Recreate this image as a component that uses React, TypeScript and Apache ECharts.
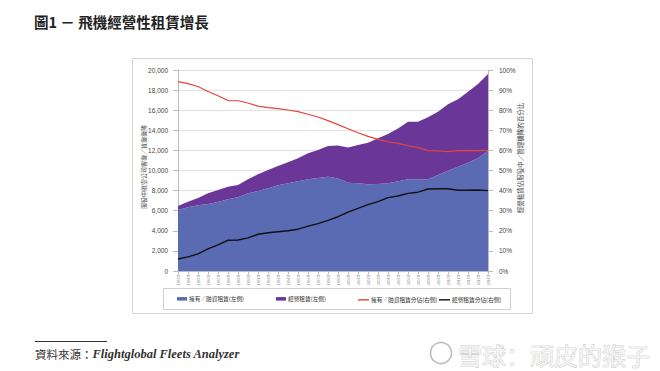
import React, { useEffect, useRef } from 'react';
import * as echarts from 'echarts';

const years = [
  '1983年', '1984年', '1985年', '1986年', '1987年', '1988年', '1989年', '1990年',
  '1991年', '1992年', '1993年', '1994年', '1995年', '1996年', '1997年', '1998年',
  '1999年', '2000年', '2001年', '2002年', '2003年', '2004年', '2005年', '2006年',
  '2007年', '2008年', '2009年', '2010年', '2011年', '2012年', '2013年', '2014年',
];

const ownedFinance = [
  6070, 6340, 6540, 6670, 6870, 7130, 7330, 7730, 7960, 8230, 8530, 8730, 8930, 9120, 9250, 9380,
  9200, 8790, 8730, 8620, 8650, 8730, 8920, 9120, 9120, 9120, 9550, 9980, 10380, 10780, 11210, 11970,
];

const operatingLease = [
  400, 560, 720, 1060, 1190, 1260, 1230, 1390, 1660, 1820, 1920, 2090, 2280, 2590, 2790, 3060,
  3300, 3510, 3810, 4150, 4550, 4900, 5270, 5740, 5740, 6170, 6300, 6600, 6700, 7060, 7400, 7630,
];

const ownedShare = [
  94.2, 93.2, 91.8, 89.3, 87.2, 84.8, 84.7, 83.6, 82.0, 81.3, 80.8, 80.1, 79.3, 78.0, 76.6, 74.8,
  72.8, 70.8, 68.8, 67.0, 65.5, 64.3, 63.5, 62.3, 61.5, 59.9, 59.7, 59.4, 59.9, 60.0, 59.9, 60.0,
];

const leaseShare = [
  6.0, 7.0, 8.5, 11.0, 13.0, 15.3, 15.4, 16.5, 18.3, 19.0, 19.5, 20.0, 20.8, 22.3, 23.6, 25.2,
  27.0, 29.3, 31.2, 33.0, 34.5, 36.5, 37.3, 38.6, 39.2, 40.8, 40.9, 40.9, 40.2, 40.2, 40.3, 40.0,
];

const seriesNames = ['擁有／融資租賃(左側)', '經營租賃(左側)', '擁有／融資租賃分佔(右側)', '經營租賃分佔(右側)'];

const BLUE = '#5A6BB4';
const PURPLE = '#6A3799';
const RED = '#E5443A';
const BLACK = '#111111';

const CJK = '"Noto Sans CJK TC", "Noto Sans CJK SC", sans-serif';

export default function App() {
  const ref = useRef<HTMLDivElement>(null);
  useEffect(() => {
    const chart = echarts.init(ref.current!, null, { renderer: 'svg' });
    const legendText = { fontSize: 5.7, color: '#333', fontFamily: CJK };
    const mkLegend = (name: string, left: number, line: boolean) => ({
      data: [{ name, icon: 'rect' }],
      left,
      top: line ? 297 : 296,
      padding: 0,
      itemWidth: line ? 11 : 10,
      itemHeight: line ? 1.4 : 3.5,
      itemGap: 0,
      selectedMode: false,
      textStyle: { ...legendText, padding: [0, 0, 0, -3] },
    });
    chart.setOption({
      animation: false,
      backgroundColor: '#ffffff',
      grid: { left: 178, top: 70, width: 310, height: 201, containLabel: false },
      xAxis: {
        type: 'category',
        data: years,
        boundaryGap: false,
        axisLine: { lineStyle: { color: '#bbbbbb', width: 1 } },
        axisTick: { show: true, length: 3, interval: 0, lineStyle: { color: '#bbbbbb' } },
        axisLabel: { rotate: 90, fontSize: 3.5, color: '#888', margin: 3, interval: 0, fontFamily: CJK },
        splitLine: { show: false },
      },
      yAxis: [
        {
          type: 'value',
          min: 0,
          max: 20000,
          interval: 2000,
          position: 'left',
          axisLine: { show: true, lineStyle: { color: '#bbbbbb' } },
          axisTick: { show: true, length: 5, lineStyle: { color: '#bbbbbb' } },
          axisLabel: {
            fontSize: 6.5,
            color: '#444',
            margin: 10,
            fontFamily: '"Liberation Sans", Arial, sans-serif',
            formatter: (v: number) => v.toLocaleString('en-US'),
          },
          splitLine: { show: true, lineStyle: { color: '#d9d9d9', width: 0.8 } },
        },
        {
          type: 'value',
          min: 0,
          max: 100,
          interval: 10,
          position: 'right',
          axisLine: { show: true, lineStyle: { color: '#bbbbbb' } },
          axisTick: { show: true, length: 5, lineStyle: { color: '#bbbbbb' } },
          axisLabel: {
            fontSize: 6.5,
            color: '#444',
            margin: 11,
            fontFamily: '"Liberation Sans", Arial, sans-serif',
            formatter: '{value}%',
          },
          splitLine: { show: false },
        },
      ],
      legend: [
        mkLegend(seriesNames[0], 177, false),
        mkLegend(seriesNames[1], 276, false),
        mkLegend(seriesNames[2], 358, true),
        mkLegend(seriesNames[3], 439, true),
      ],
      series: [
        {
          name: seriesNames[0],
          type: 'line',
          stack: 'fleet',
          data: ownedFinance,
          symbol: 'none',
          color: BLUE,
          itemStyle: { color: BLUE },
          lineStyle: { width: 0 },
          areaStyle: { color: BLUE, opacity: 1 },
          yAxisIndex: 0,
          z: 1,
        },
        {
          name: seriesNames[1],
          type: 'line',
          stack: 'fleet',
          data: operatingLease,
          symbol: 'none',
          color: PURPLE,
          itemStyle: { color: PURPLE },
          lineStyle: { width: 0 },
          areaStyle: { color: PURPLE, opacity: 1 },
          yAxisIndex: 0,
          z: 1,
        },
        {
          name: seriesNames[2],
          type: 'line',
          data: ownedShare,
          symbol: 'none',
          color: RED,
          itemStyle: { color: RED },
          lineStyle: { width: 1.2, color: RED },
          yAxisIndex: 1,
          z: 3,
        },
        {
          name: seriesNames[3],
          type: 'line',
          data: leaseShare,
          symbol: 'none',
          color: BLACK,
          itemStyle: { color: BLACK },
          lineStyle: { width: 1.4, color: BLACK },
          yAxisIndex: 1,
          z: 3,
        },
      ],
      graphic: [
        {
          type: 'rect',
          shape: { x: 132.5, y: 58.5, width: 400, height: 255 },
          style: { fill: 'none', stroke: '#d4d4d4', lineWidth: 1 },
          silent: true,
        },
        {
          type: 'rect',
          shape: { x: 163.5, y: 288.5, width: 347, height: 21 },
          style: { fill: 'none', stroke: '#cfcfcf', lineWidth: 1 },
          silent: true,
        },
        {
          type: 'text',
          x: 143,
          y: 167,
          rotation: Math.PI / 2,
          style: {
            text: '服役中航空公司客機／貨機機隊',
            fontSize: 6,
            fontFamily: CJK,
            fill: '#444',
            align: 'center',
            verticalAlign: 'middle',
          },
        },
        {
          type: 'text',
          x: 520,
          y: 158,
          rotation: Math.PI / 2,
          style: {
            text: '經營租賃佔服役中／管理機隊的百分比',
            fontSize: 6.5,
            fontFamily: CJK,
            fill: '#444',
            align: 'center',
            verticalAlign: 'middle',
          },
        },
        {
          type: 'text',
          x: 34,
          y: 21,
          style: {
            text: '圖1 － 飛機經營性租賃增長',
            fontSize: 14.5,
            fontWeight: 'bold',
            fontFamily: CJK,
            fill: '#222',
            align: 'left',
            verticalAlign: 'middle',
          },
        },
        {
          type: 'line',
          shape: { x1: 35, y1: 341.5, x2: 107, y2: 341.5 },
          style: { stroke: '#333', lineWidth: 1 },
        },
        {
          type: 'text',
          x: 35,
          y: 354,
          style: {
            text: '{a|資料來源：}{b|Flightglobal Fleets Analyzer}',
            verticalAlign: 'middle',
            align: 'left',
            rich: {
              a: { fontSize: 11.5, fontFamily: CJK, fill: '#333', color: '#333' },
              b: {
                fontSize: 12.5,
                fontFamily: '"Liberation Serif", "DejaVu Serif", serif',
                fontStyle: 'italic',
                fontWeight: 'bold',
                fill: '#333',
                color: '#333',
              },
            },
          },
        },
        {
          type: 'circle',
          shape: { cx: 441, cy: 353, r: 10.5 },
          style: { fill: 'none', stroke: '#bdbdbd', lineWidth: 1.6 },
        },
        {
          type: 'text',
          x: 458,
          y: 354,
          style: {
            text: '雪球：顽皮的猴子',
            fontSize: 24,
            fontFamily: '"Noto Sans CJK SC", sans-serif',
            fill: '#f4f4f4',
            stroke: '#bcbcbc',
            lineWidth: 0.7,
            align: 'left',
            verticalAlign: 'middle',
          },
        },
      ],
    });
    return () => chart.dispose();
  }, []);
  return (
    <div
      ref={ref}
      style={{ position: 'fixed', left: 0, top: 0, width: 660, height: 371, background: '#fff' }}
    />
  );
}
